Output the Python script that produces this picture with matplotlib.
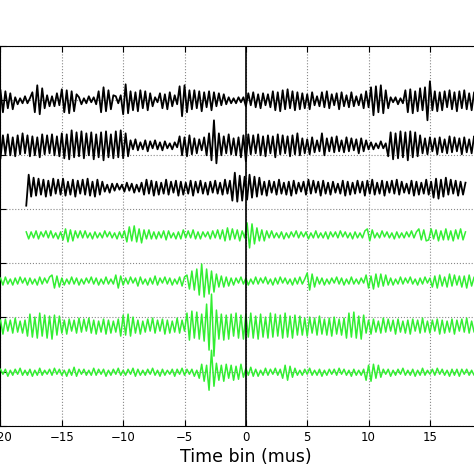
import numpy as np
import matplotlib
matplotlib.use("Agg")
import matplotlib.pyplot as plt

# ---- data: signed oscillation extrema (a.u.), one every DT mus ----
DT = 0.2
GAIN = 1 / 54.3

trace1 = [10,-12, 9,-8,7,-9, 3,-4,2,-3,4,-3,2, 8,-12,15,-14,12,-8, 5,-6,4,-6,7,-5,
          11,-12,10,-13,9,-11,6, 3,-4,2,-3,4,-2,3,-4, 9,-12,13,-11,10,-9,5, 4,-3,5,
          -14,16,-13, 9,-10,8,-11,10,-8,9,-10,7,-6, 3,-2, 7,-8,6,-9,8,-6, 5,-4,
          14,-16,15,-12,10, -9,10,-8,9,-11,8,-7,9,-10,8,-6,7,-5,6,-4,3, -3,2,-3,3,-2,3,
          -6,7,-5,8,-7,6,-8,7,-5,6,-7, 9,-10,8,-11,10,-9,11,-8,9,-10,8,-9,
          7,-8,6,-9,8,-5,4,-6,8,-7,9,-8,6,-5,7,-9,8,-6,5,-7,8,-6,4,-5,6,-8,9,-7,
          13,-15,14,-12,15,-13,10,-8, 3,-2,3,-4,2,-3, 10,-12,11,-13,9,-11,12,-10,13,
          -20,19, -10,9,-11,8,-10,9,-7,10,-9,8,-11,9,-8,10,-9,7,-10,8,-12]

trace2 = [-13,10, -9,11,-10,8,-11,10,-9,12,-8,10,-11,9,-10,8,-12,11,-9,10,-8,11,-10,9,-11,
          12,-13,11,-14,15,-12,13,-11,14,-13,12,-10,13,-14,11,-12,13,-15,14,-12,11,-13,14,-12,15,-13,12,-11,
          5,-4,6,-5,3,-4,5,-6,4,-3,5,-4,3,-5,4,-3,2,-4,3,-2,
          9,-10,8,-11,10,-9,7,-8,6,-5, 8,-10,12, -15,25,-18,12,
          -10,9,-8,11,-9,7,-10,8,-12,10,
          -16,11,-9,10,-8,11,-10,9,-11,10,-8,9,-12,11,-9,10,-8,9,-11,10,-9,12,-10,
          7,-8,6,-9,8,-7,5,-6,12,-10,7,-6,8,-7,9,-6,5,-7,8,-6,7,-5,6,-8,7,-6,5,
          -4,3,-4,2,-3,4,-3,2,
          -11,13,-14,12,-13,14,-12,13,-15,14,-12,13,-11,10,
          -8,7,-9,8,-6,7,-9,8,-7,6,-8,9,-7,8,-6,7,-9,8,-7,6,-8,9,-7]

trace3 = [-18,13,
          -9,10,-8,9,-7,8,-9,7,-8,9,-6,8,-7,9,-8,6,-7,8,-9,7,-6,8,-7,9,-8,6,-9,8,-7,6,
          -4,3,-5,4,-3,4,-2,3,-4,5,-3,4,-5,3,-4,5,
          -7,8,-6,7,-8,6,-7,5,-6,8,-7,6,-5,7,-8,6,-7,5,-6,7,-8,6,-5,7,
          -6,5,-7,6,-5,7,-6,5,-7,8,-6,7,
          -13,15,-14,12,-13,11, -12,13,-10,11,-9,10,
          -7,6,-8,7,-5,6,-7,8,-6,5,-7,6,-8,7,-6,5,-4,6,-7,8,-6,7,-5,6,-8,7,-6,5,-7,6,
          -5,4,-6,7,-8,6,-7,5,-6,7,-5,6,-8,7,-6,8,-7,5,-6,7,-8,6,-5,7,-6,8,-7,6,-5,4,
          -6,7,-8,6,-7,5,-6,8,-7,6,
          -10,9,-11,8,-9,10, -7,8,-6,7,-8,6,-7,5]

trace4 = [3,-4,3,-3,4,-4,3,-2,4,-3,4,-3,2,-4,3,
          -5,6,-7,5,-6,4,-3,4,
          -3,4,-3,2,-4,3,-3,2,-3,4,-2,3,-3,2,-4,3,-3,4,
          -7,8,-6,9,-7,6,-8,5,-4,5,
          -4,3,-4,3,-3,4,-5,4,-3,2,-4,3,-4,5,-3,4,-3,5,-4,3,-4,3,-2,3,-4,4,-3,5,-4,
          5,-6,7,-5,6,-4,5,-6,4,-3,
          12,-13,11,-9, 7,-6,5,-6,4,-3,
          4,-3,2,-3,3,-4,2,-3,3,-2,4,-3,3,-2,3,-4,2,-3,4,-3,2,-3,3,-4,3,-2,3,-3,4,-2,
          3,-3,2,-4,3,-3,2,-3,4,
          6,-6,5,
          -3,2,-3,4,-2,3,-3,2,-4,3,-3,2,-3,3,-2,4,-3,3,
          6,-5,5,-6,
          -5,6,-4,5,-6,4,-5,6,-5,4,-6,5,-4,6,-5,3]

trace5 = [3,-4,4,-3,2,-4,3,-3,4,-2,3,-4,3,-3,2,-4,4,-3,3,-2,4,
          6,-7,5,-6,
          3,-4,2,-3,4,-3,3,-4,2,-3,3,-2,4,-3,3,-4,2,-3,4,-3,2,-3,
          6,-7,5,
          -4,3,-3,4,-2,3,-5,4,-3,2,-4,3,-3,5,-4,3,-2,4,-3,3,-4,2,-3,4,-5,4,
          6,-8,10,-9,12, -14,17,-16, 12,-13,10,-11,
          7,-6,5,-6,4,-5,3,-4,3,-2,4,-3,
          3,-4,2,-3,4,-3,3,-2,4,-3,2,-4,3,-3,4,-2,3,-3,2,-4,3,-3,4,-3,2,
          8,-9,7,-6,
          4,-3,3,-4,2,-3,3,-2,4,-3,3,-4,2,-3,4,-3,2,-3,3,-2,
          6,-7,5,-8,7,-6,7,-5,6,-4,
          3,-4,2,-3,4,-3,3,-2,4,-3,2,-4,3,-3,4,-2,3,
          -6,5,-7,6,-5,4,-6,7,-5,6,-4,5,-6,5,-7,6,-5,4,-6]

trace6 = [6,-8,7,-5,6,-7,8,-6,5,-7,6,
          -10,12,-11,9,-12,13,-10,11,-12,10,-13,11,-9,10,
          -7,6,-8,7,-5,6,-7,8,-6,7,-5,8,-7,6,-8,5,-6,7,-8,6,-7,5,-6,7,
          -10,11,-9,12,-10,9,
          -7,6,-8,5,-6,7,-5,8,-7,6,-5,7,-8,6,-7,5,-6,8,-7,6,-5,
          13,-14,15,-12,14,-13,12,-15,
          22,-24,32,-30,
          16,-13,12,-14,11,-13,12,-10,13,-12,11,-13,
          12,-11,13,-12,10,-13,12,-11,9,-12,13,-11,12,-10,11,-12,13,-11,10,-12,11,-9,10,
          -9,8,-10,9,-7,8,-9,10,-8,7,-9,8,-10,9,-8,7,-9,8,
          -12,13,-11,14,-12,10,-13,11,
          -7,6,-8,7,-6,5,-7,8,-6,7,-5,6,-8,7,-6,5,-7,6,-8,7,-5,6,-7,8,-6,5,-7,6,-5,7,
          -8,6,-7,5,-6,7,-8,6,-5,7,-6,8,-7,5,-6,7]

trace7 = [3,-2,3,-4,2,-3,3,-2,4,-3,2,-3,3,-4,2,-3,4,-3,2,-2,3,-3,4,-2,3,-3,2,-4,3,-3,
          5,-4,3,-2,3,-3,2,-3,4,-3,3,-2,3,-4,2,-3,3,-2,4,-3,2,-3,3,-2,4,-4,3,-3,2,-3,
          3,-2,4,-3,2,-4,3,-3,2,-2,3,-4,3,-2,4,-3,3,-2,3,-4,2,
          -6,8,-9,7, -18,22,-14,
          9,-8,7,-9,8,-6,7,-8,6,-7,8,-5,
          4,-3,5,-4,3,-4,2,-3,4,-3,3,-2,4,-3,3,
          -6,7,-8,6,-5,4,
          -3,2,-3,3,-2,4,-3,2,-3,3,-4,2,-3,3,-2,3,-3,4,-2,3,-3,2,-4,3,-3,2,-3,3,
          -8,7,-9,8,-6,7,-5,
          3,-2,3,-4,2,-3,3,-2,4,-3,2,-3,3,-4,2,-3,4,-3,2,-2,3,-3,4,-2,3,-3,2,-4,3,-3,
          3,-4,3,-2,3,-3,2,-3,4]

traces = [trace1, trace2, trace3, trace4, trace5, trace6, trace7]
offsets = [6.0, 5.17, 4.39, 3.52, 2.67, 1.84, 0.99]
starts = [-20.0, -20.0, -17.9, -17.9, -20.0, -20.0, -20.0]
colors = ['black', 'black', 'black', '#33ee33', '#33ee33', '#33ee33', '#33ee33']
widths = [1.3, 1.3, 1.3, 1.1, 1.1, 1.1, 1.1]

xticks = [-20, -15, -10, -5, 0, 5, 10, 15]
xlabel = 'Time bin (mus)'

fig = plt.figure(figsize=(4.74, 4.74), dpi=100)
ax = fig.add_axes([0.001, 0.1013, 1.0354, 0.8017])

for vals, off, t0, c, lw in zip(traces, offsets, starts, colors, widths):
    v = np.asarray(vals, dtype=float)
    t = t0 + DT * np.arange(len(v))
    ax.plot(t, off + v * GAIN, color=c, lw=lw, zorder=3)

ax.axvline(0, color='black', lw=1.2, zorder=4)

ax.set_xlim(-20, 20)
ax.set_ylim(0, 7)
ax.set_xticks(xticks)
ax.set_xticklabels([f'\u2212{abs(x)}' if x < 0 else str(x) for x in xticks], fontsize=8.5)
ax.set_yticks(range(0, 8))
ax.set_yticklabels([])
ax.tick_params(direction='in', top=True, right=True, length=4)
ax.grid(True, linestyle=':', color='#888888', linewidth=0.8, zorder=1)
ax.set_xlabel(xlabel, fontsize=12.5, labelpad=3)

fig.savefig('out.png', dpi=100)
